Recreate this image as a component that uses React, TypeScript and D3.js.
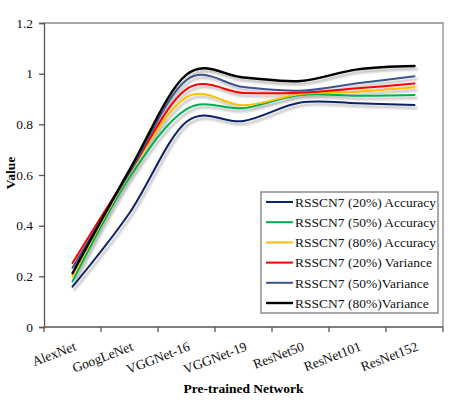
import { useEffect, useRef } from 'react';
import * as d3 from 'd3';

const networks = ['AlexNet', 'GoogLeNet', 'VGGNet-16', 'VGGNet-19', 'ResNet50', 'ResNet101', 'ResNet152'];

const acc20 = [0.159, 0.45, 0.81, 0.813, 0.886, 0.883, 0.876];
const acc50 = [0.18, 0.59, 0.86, 0.864, 0.916, 0.913, 0.916];
const acc80 = [0.2, 0.605, 0.907, 0.875, 0.92, 0.929, 0.946];
const var20 = [0.253, 0.61, 0.939, 0.924, 0.925, 0.942, 0.961];
const var50 = [0.234, 0.61, 0.975, 0.947, 0.933, 0.962, 0.99];
const var80 = [0.212, 0.62, 0.996, 0.985, 0.971, 1.017, 1.03];

const seriesLabels = [
  'RSSCN7 (20%) Accuracy',
  'RSSCN7 (50%) Accuracy',
  'RSSCN7 (80%) Accuracy',
  'RSSCN7 (20%) Variance',
  'RSSCN7 (50%)Variance',
  'RSSCN7 (80%)Variance',
];

const yTicks = [0, 0.2, 0.4, 0.6, 0.8, 1, 1.2];

const colors = ['#0a2466', '#00b050', '#ffc000', '#ff0000', '#3d5488', '#000000'];

export default function App() {
  const svgRef = useRef<SVGSVGElement>(null);

  useEffect(() => {
    if (!svgRef.current) return;
    const svg = d3.select(svgRef.current);
    svg.selectAll('*').remove();

    const width = 474;
    const height = 408;
    const left = 44;
    const right = 443;
    const top = 23;
    const bottom = 327;
    const font = '"Liberation Serif", "Times New Roman", serif';

    const series = [acc20, acc50, acc80, var20, var50, var80];

    const x = d3.scaleBand<string>().domain(networks).range([left, right]).padding(0);
    const y = d3.scaleLinear().domain([0, 1.2]).range([bottom, top]);
    const cx = (n: string) => (x(n) ?? 0) + x.bandwidth() / 2;

    svg.attr('width', width).attr('height', height).attr('viewBox', `0 0 ${width} ${height}`);

    const defs = svg.append('defs');
    const shadow = defs.append('filter').attr('id', 'line-shadow')
      .attr('x', '-10%').attr('y', '-10%').attr('width', '120%').attr('height', '120%');
    shadow.append('feDropShadow')
      .attr('dx', 2).attr('dy', 3).attr('stdDeviation', 1.3)
      .attr('flood-color', '#000').attr('flood-opacity', 0.28);

    svg.append('rect').attr('width', width).attr('height', height).attr('fill', '#fff');

    // Frame: top and right edges
    svg.append('path')
      .attr('d', `M${left},${top}H${right}V${bottom}`)
      .attr('fill', 'none')
      .attr('stroke', '#8a8a8a')
      .attr('stroke-width', 1.3);

    // Y axis
    const yAxis = svg.append('g').attr('transform', `translate(${left},0)`)
      .call(d3.axisLeft(y).tickValues(yTicks).tickSize(5).tickPadding(6)
        .tickFormat((d) => String(+(+d).toFixed(1))));
    yAxis.select('.domain').attr('stroke', '#555').attr('stroke-width', 1.3);
    yAxis.selectAll('.tick line').attr('stroke', '#555').attr('stroke-width', 1.3);
    yAxis.selectAll('.tick text')
      .attr('font-family', font).attr('font-size', 13.5).attr('fill', '#111');

    // X axis with ticks on category boundaries
    const xAxis = svg.append('g');
    xAxis.append('line')
      .attr('x1', left).attr('x2', right).attr('y1', bottom).attr('y2', bottom)
      .attr('stroke', '#555').attr('stroke-width', 1.3);
    const bounds = [...networks.map((n) => x(n) ?? 0), right];
    xAxis.selectAll('line.tk').data(bounds).enter().append('line')
      .attr('class', 'tk')
      .attr('x1', (d) => d).attr('x2', (d) => d)
      .attr('y1', bottom).attr('y2', bottom + 5)
      .attr('stroke', '#555').attr('stroke-width', 1.3);
    xAxis.selectAll('text').data(networks).enter().append('text')
      .attr('transform', (d) => `translate(${cx(d) + 1},${bottom + 14}) rotate(-21)`)
      .attr('text-anchor', 'end')
      .attr('dy', '0.71em')
      .attr('font-family', font)
      .attr('font-size', 13.5)
      .attr('fill', '#111')
      .text((d) => d);

    // Axis titles
    svg.append('text')
      .attr('x', (left + right) / 2).attr('y', 393)
      .attr('text-anchor', 'middle')
      .attr('font-family', font).attr('font-weight', 'bold').attr('font-size', 13.5)
      .text('Pre-trained Network');
    svg.append('text')
      .attr('transform', `translate(15,${(top + bottom) / 2 - 2}) rotate(-90)`)
      .attr('text-anchor', 'middle')
      .attr('font-family', font).attr('font-weight', 'bold').attr('font-size', 13.5)
      .text('Value');

    // Smoothed series lines
    const line = d3.line<number>()
      .x((_, i) => cx(networks[i]))
      .y((d) => y(d))
      .curve(d3.curveCardinal.tension(0));

    const lines = svg.append('g').attr('filter', 'url(#line-shadow)');
    series.forEach((vals, i) => {
      lines.append('path')
        .datum(vals)
        .attr('d', line)
        .attr('fill', 'none')
        .attr('stroke', colors[i])
        .attr('stroke-width', i === 5 ? 2.4 : 2)
        .attr('stroke-linecap', 'round');
    });

    // Legend
    const lg = svg.append('g');
    lg.append('rect')
      .attr('x', 261).attr('y', 192).attr('width', 177).attr('height', 121)
      .attr('fill', '#fff').attr('stroke', '#7a7a7a').attr('stroke-width', 1.3);
    seriesLabels.forEach((label, i) => {
      const ry = 202 + i * 20.2;
      lg.append('line')
        .attr('x1', 266).attr('x2', 293).attr('y1', ry).attr('y2', ry)
        .attr('stroke', colors[i]).attr('stroke-width', i === 5 ? 2.4 : 2);
      lg.append('text')
        .attr('x', 295).attr('y', ry).attr('dy', '0.35em')
        .attr('font-family', font).attr('font-size', 13.5).attr('fill', '#111')
        .text(label);
    });
  }, []);

  return <svg ref={svgRef} style={{ position: 'absolute', left: 0, top: 0, display: 'block' }} />;
}
